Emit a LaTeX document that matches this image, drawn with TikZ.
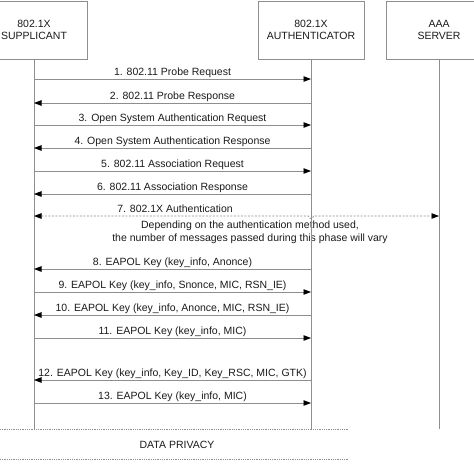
\documentclass[tikz,border=0pt]{standalone}
\usepackage{fontspec}
\setmainfont{Liberation Sans}
\usetikzlibrary{arrows.meta}
\definecolor{lgray}{HTML}{8E8E8E}
\definecolor{txt}{HTML}{1A1A1A}
\tikzset{
  actor/.style={draw=lgray, line width=0.8pt, minimum width=106pt, minimum height=58pt, align=center, text=txt, font=\fontsize{10.5}{12.5}\selectfont, inner sep=0pt},
  life/.style={draw=lgray, line width=0.8pt},
  msg/.style={draw=lgray, line width=0.8pt, -{Triangle[length=7.5pt,width=5.5pt,fill=black,color=black]}},
  dmsg/.style={draw=lgray, line width=0.8pt, dash pattern=on 2pt off 1.5pt, {Triangle[length=7.5pt,width=5.5pt,fill=black,color=black]}-{Triangle[length=7.5pt,width=5.5pt,fill=black,color=black]}},
  lbl/.style={text=txt, font=\fontsize{10.5}{12.5}\selectfont, inner sep=0pt, anchor=base},
  note/.style={text=txt, font=\fontsize{10.5}{12.6}\selectfont, align=center, inner sep=0pt},
  sep/.style={draw=lgray, line width=0.7pt, dash pattern=on 1pt off 0.8pt}
}
\begin{document}
\begin{tikzpicture}[x=1pt,y=-1pt]
\useasboundingbox (0,0) rectangle (474,474);
% actor boxes
\node[actor] (sup) at (34,30) {802.1X\\SUPPLICANT};
\node[actor] (auth) at (311,30) {802.1X\\AUTHENTICATOR};
\node[actor] (aaa) at (439,30) {AAA\\SERVER};
% lifeline ends
\coordinate (supEnd) at (34,429);
\coordinate (authEnd) at (311,429);
\coordinate (aaaEnd) at (439,429);
\draw[life] (sup.south) -- (supEnd);
\draw[life] (auth.south) -- (authEnd);
\draw[life] (aaa.south) -- (aaaEnd);
% messages
\foreach \n/\y/\d/\t in {
 1/79/r/{1. 802.11 Probe Request},
 2/103/l/{2. 802.11 Probe Response},
 3/125/r/{3. Open System Authentication Request},
 4/148/l/{4. Open System Authentication Response},
 5/171/r/{5. 802.11 Association Request},
 6/194/l/{6. 802.11 Association Response},
 8/269/l/{8. EAPOL Key (key\_info, Anonce)},
 9/292/r/{9. EAPOL Key (key\_info, Snonce, MIC, RSN\_IE)},
 10/315/l/{10. EAPOL Key (key\_info, Anonce, MIC, RSN\_IE)},
 11/338/r/{11. EAPOL Key (key\_info, MIC)},
 12/380/l/{12. EAPOL Key (key\_info, Key\_ID, Key\_RSC, MIC, GTK)},
 13/403/r/{13. EAPOL Key (key\_info, MIC)}}{
  \coordinate (s\n) at (34,\y);
  \coordinate (a\n) at (311,\y);
  \if r\d
    \draw[msg] (s\n) -- (a\n);
  \else
    \draw[msg] (a\n) -- (s\n);
  \fi
  \node[lbl] (l\n) at (172.5,\y-4) {\t};
}
% message 7
\coordinate (s7) at (34,216);
\coordinate (j7a) at (308.5,216);
\coordinate (j7b) at (313.5,216);
\coordinate (x7) at (439,216);
\draw[dmsg] (s7) -- (j7a) arc[start angle=180,end angle=0,radius=2.5] -- (x7);
\node[lbl] (l7) at (175,212) {7. 802.1X Authentication};
\node[note] (n7) at (250,232) {Depending on the authentication method used,\\the number of messages passed during this phase will vary};
\draw[life] (311,205) -- (311,250);
% data privacy
\coordinate (d1) at (0,429);
\coordinate (d2) at (349,429);
\coordinate (d3) at (0,459);
\coordinate (d4) at (349,459);
\draw[sep] (d1) -- (d2);
\draw[sep] (d3) -- (d4);
\node[lbl] (dp) at (177,448) {DATA PRIVACY};
\end{tikzpicture}
\end{document}
